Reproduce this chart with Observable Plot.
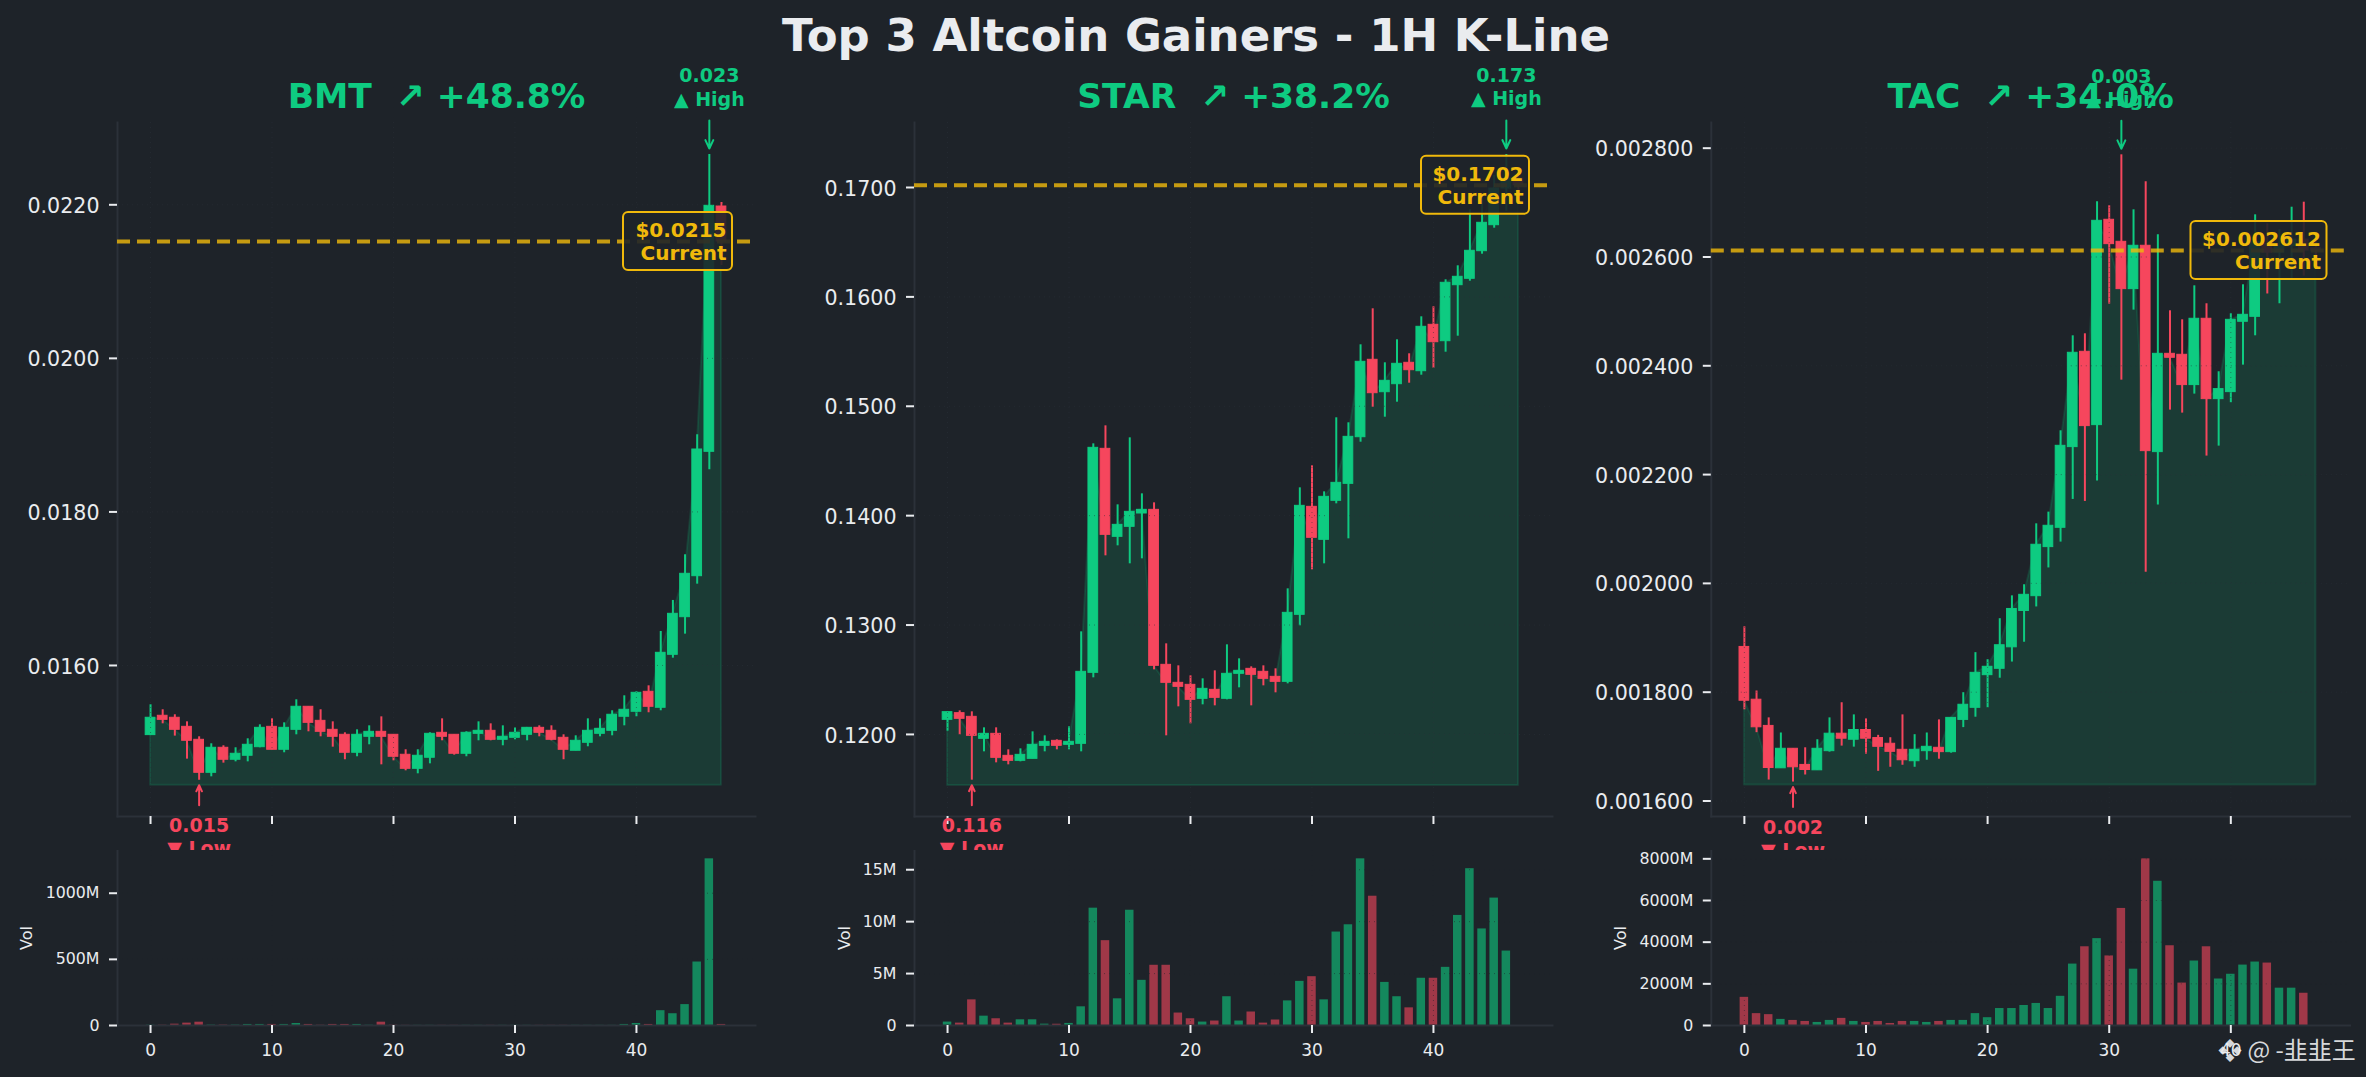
<!DOCTYPE html>
<html><head><meta charset="utf-8">
<script src="https://cdn.jsdelivr.net/npm/d3@7"></script>
<script src="https://cdn.jsdelivr.net/npm/@observablehq/plot@0.6"></script>
<style>
html,body{margin:0;padding:0;background:#1e2329;width:2366px;height:1077px;overflow:hidden}
#root{position:relative;width:2366px;height:1077px;background:#1e2329;font-family:"DejaVu Sans",sans-serif}
#root>div.p{position:absolute}
#title{position:absolute;left:0;width:2392px;top:10px;text-align:center;font-weight:700;font-size:45px;line-height:52px;color:#eaecef;white-space:pre}
#wm{position:absolute;left:2218px;top:1033px;font-size:24px;line-height:32px;color:#d6d8da;white-space:pre;font-family:"Noto Sans CJK SC","DejaVu Sans",sans-serif}
</style></head><body><div id="root">
<div id="title">Top 3 Altcoin Gainers - 1H K-Line</div>
<div id="wm">❖ @ -韭韭王</div>
</div>
<script>
const hourTicks=[0,10,20,30,40];

const bmtOpen=[0.015093,0.015345,0.015319,0.015201,0.015032,0.014602,0.014928,0.014772,0.014824,0.014936,0.015201,0.014902,0.015162,0.015462,0.015279,0.015162,0.015097,0.014863,0.015071,0.015136,0.015097,0.014837,0.014654,0.014798,0.015123,0.015097,0.01485,0.01511,0.015149,0.015032,0.015058,0.015097,0.015188,0.015149,0.015058,0.014889,0.014993,0.01511,0.015149,0.015332,0.015397,0.015657,0.015449,0.016139,0.016629,0.017163,0.018783,0.021978];
const bmtClose=[0.015319,0.015292,0.015162,0.015019,0.014602,0.014928,0.014772,0.01485,0.014967,0.015188,0.014902,0.015188,0.015462,0.015253,0.015136,0.015071,0.014863,0.015097,0.015136,0.015071,0.014811,0.014654,0.014824,0.01511,0.015071,0.01485,0.015123,0.015149,0.015032,0.015071,0.015123,0.015188,0.015123,0.015032,0.014902,0.015019,0.015149,0.015175,0.015358,0.015423,0.015644,0.015462,0.016165,0.016673,0.017194,0.018813,0.021987,0.021522];
const bmtHigh=[0.015488,0.015423,0.015358,0.015266,0.015071,0.01498,0.014954,0.014928,0.015045,0.015227,0.015305,0.015253,0.015553,0.015462,0.015423,0.015266,0.015123,0.015162,0.015214,0.015331,0.015097,0.014902,0.014902,0.015123,0.015305,0.015097,0.015136,0.015266,0.01524,0.015214,0.015188,0.015188,0.015214,0.015214,0.015097,0.015084,0.015305,0.015305,0.01541,0.015605,0.015657,0.015735,0.016443,0.016847,0.017442,0.019005,0.022655,0.02203];
const bmtLow=[0.015093,0.01524,0.01508,0.01478,0.014505,0.01455,0.014728,0.014745,0.014745,0.014928,0.014902,0.014863,0.015097,0.015136,0.015071,0.014936,0.014772,0.014811,0.014967,0.014706,0.014758,0.014628,0.014589,0.014719,0.015019,0.014832,0.014811,0.015019,0.015019,0.014954,0.015032,0.015019,0.015071,0.015019,0.014772,0.014889,0.014941,0.015071,0.015084,0.015214,0.015332,0.015384,0.01541,0.016095,0.016408,0.017059,0.018549,0.02121];
const bmtVolume=[2,2,10,18,25,3,3,3,8,8,8,8,15,8,2,8,8,8,2,25,2,1,1,1,1,1,1,1,1,1,1,1,1,1,1,1,1,1,1,8,15,8,112,89,158,480,1260,8];

const starOpen=[0.121334,0.121944,0.121609,0.119597,0.120054,0.118043,0.117586,0.117769,0.118957,0.119414,0.119049,0.11914,0.125631,0.146109,0.138064,0.138978,0.140197,0.140532,0.126362,0.124717,0.124534,0.123254,0.124077,0.123254,0.12554,0.125997,0.125722,0.125265,0.124808,0.130933,0.140806,0.13779,0.141355,0.142909,0.147172,0.154249,0.151286,0.152018,0.153974,0.153206,0.157448,0.155949,0.161068,0.161653,0.164177,0.166553,0.169909,0.170823];
const starClose=[0.122035,0.121426,0.119872,0.120054,0.11786,0.117586,0.118135,0.119049,0.119323,0.118957,0.119323,0.125722,0.1462,0.138247,0.139161,0.140349,0.140532,0.126271,0.124717,0.124351,0.123163,0.124168,0.123345,0.12554,0.125814,0.125448,0.125082,0.124808,0.131116,0.140898,0.137973,0.141721,0.143001,0.147206,0.154066,0.151195,0.152328,0.153883,0.153298,0.157265,0.155857,0.161288,0.161836,0.164213,0.166773,0.169909,0.170823,0.1702];
const starHigh=[0.122035,0.122157,0.122066,0.120603,0.120603,0.118592,0.118683,0.120237,0.119872,0.119506,0.120694,0.129379,0.146566,0.148211,0.140989,0.147114,0.141995,0.141172,0.128282,0.126271,0.125357,0.125082,0.125814,0.128191,0.126911,0.126179,0.126271,0.125997,0.13331,0.142543,0.144555,0.142178,0.148946,0.148489,0.15562,0.158911,0.153974,0.156077,0.154797,0.158179,0.159094,0.161562,0.162842,0.167961,0.169269,0.171097,0.173017,0.171371];
const starLow=[0.120298,0.119963,0.115819,0.118409,0.117403,0.11722,0.117495,0.117769,0.118409,0.118592,0.118592,0.118409,0.125174,0.136327,0.137241,0.135596,0.136053,0.125905,0.119872,0.122523,0.120969,0.122706,0.122614,0.123163,0.12426,0.122614,0.124442,0.123803,0.124625,0.129928,0.135047,0.135596,0.141081,0.137881,0.146715,0.149915,0.149001,0.150372,0.152109,0.15284,0.15348,0.154943,0.156406,0.161434,0.163902,0.166279,0.167833,0.169177];
const starVolume=[0.33,0.23,2.47,0.9,0.65,0.23,0.55,0.55,0.13,0.12,0.2,1.8,11.3,8.17,2.57,11.1,4.35,5.8,5.8,1.2,0.65,0.33,0.43,2.77,0.43,1.3,0.23,0.53,2.37,4.25,4.7,2.47,9,9.7,16.05,12.45,4.15,2.77,1.7,4.55,4.55,5.6,10.6,15.1,9.3,12.27,7.17,0];

const tacOpen=[0.0018832,0.0017862,0.001738,0.0016601,0.001696,0.0016663,0.0016564,0.0016916,0.0017237,0.0017126,0.0017305,0.0017157,0.0017052,0.0016941,0.0016731,0.0016916,0.0016978,0.0016898,0.0017491,0.0017713,0.0018313,0.001843,0.0018825,0.0019493,0.0019765,0.0020667,0.0021022,0.0022505,0.0024257,0.0022909,0.0026684,0.0026279,0.0025409,0.0026206,0.0022413,0.002422,0.0024202,0.0023645,0.0024864,0.0023387,0.0023516,0.0024809,0.00249,0.002624,0.002608,0.00262,0.002632,0.002616];
const tacClose=[0.0017843,0.0017355,0.0016607,0.001696,0.001662,0.001657,0.001696,0.0017237,0.0017145,0.0017305,0.0017145,0.0016996,0.0016904,0.0016749,0.0016941,0.0016996,0.0016898,0.0017528,0.0017769,0.0018356,0.0018467,0.0018863,0.001953,0.001979,0.002071,0.0021059,0.0022529,0.0024239,0.0022891,0.0026665,0.0026236,0.0025409,0.0026206,0.0022431,0.002422,0.0024147,0.0023645,0.0024864,0.0023387,0.0023571,0.0024845,0.0024937,0.002627,0.002608,0.00262,0.002632,0.002612,0.002612];
const tacHigh=[0.0019202,0.0018022,0.0017528,0.001725,0.001696,0.0016978,0.0017126,0.0017528,0.0017806,0.0017583,0.0017509,0.0017207,0.0017163,0.0017583,0.0017219,0.001725,0.0017491,0.0017528,0.0017991,0.0018727,0.0018597,0.0019351,0.0019771,0.0019975,0.0021095,0.002131,0.0022805,0.0024551,0.0024588,0.0027014,0.0026941,0.0027878,0.0026867,0.0027382,0.0026408,0.0025011,0.0024845,0.002547,0.002514,0.002389,0.0024956,0.0025489,0.0026775,0.002661,0.00265,0.0026915,0.0027007,0.00263];
const tacLow=[0.0017676,0.0017256,0.0016385,0.0016601,0.0016348,0.0016478,0.0016564,0.0016898,0.0017009,0.001699,0.0016861,0.0016545,0.001662,0.0016657,0.001662,0.0016749,0.0016768,0.0016879,0.0017349,0.001754,0.0017713,0.0018257,0.0018554,0.0018918,0.0019567,0.0020284,0.0020759,0.0021543,0.0021506,0.002188,0.0025133,0.0023736,0.0025023,0.0020203,0.0021439,0.0023185,0.002313,0.0023479,0.002234,0.0022523,0.002332,0.0024012,0.0024551,0.002532,0.002514,0.00256,0.002565,0.0026];
const tacVolume=[1352,570,521,293,244,195,147,244,342,195,147,195,98,195,195,147,195,244,244,570,375,815,815,961,1059,815,1401,2948,3779,4170,3340,5620,2704,8000,6923,3828,2036,3095,3779,2232,2460,2900,3046,2997,1792,1792,1548,0];

const bmtTicks=[0.016,0.018,0.02,0.022];
const starTicks=[0.12,0.13,0.14,0.15,0.16,0.17];
const tacTicks=[0.0016,0.0018,0.002,0.0022,0.0024,0.0026,0.0028];
const bmtVolTicks=[0,500,1000];
const starVolTicks=[0,5,10,15];
const tacVolTicks=[0,2000,4000,6000,8000];

const GREEN="#0ecb81",RED="#f6465d",GOLD="#f0b90b",BG="#1e2329",SPINE="#2b3139",INK="#eaecef";
const panels=[
 {name:"BMT  ↗ +48.8%",o:bmtOpen,c:bmtClose,h:bmtHigh,l:bmtLow,v:bmtVolume,ticks:bmtTicks,vt:bmtVolTicks,dec:4,current:0.021522,
  dom:[0.014033,0.023072],base:0.01444,left:0,width:800,ml:117,mr:45,volOff:-91,boxW:109},
 {name:"STAR  ↗ +38.2%",o:starOpen,c:starClose,h:starHigh,l:starLow,v:starVolume,ticks:starTicks,vt:starVolTicks,dec:4,current:0.1702,
  dom:[0.112497,0.175942],base:0.115331,left:800,width:790,ml:114,mr:38,volOff:-70,boxW:108},
 {name:"TAC  ↗ +34.0%",o:tacOpen,c:tacClose,h:tacHigh,l:tacLow,v:tacVolume,ticks:tacTicks,vt:tacVolTicks,dec:6,current:0.002612,
  dom:[0.0015715,0.0028472],base:0.0016292,left:1590,width:776,ml:120.8,mr:16.5,volOff:-90,boxW:136}
];
const xDomain=[-2.72,49.8];
const root=document.getElementById("root");
const font="DejaVu Sans";

function place(svg,left,top){const d=document.createElement("div");d.className="p";d.style.left=left+"px";d.style.top=top+"px";d.appendChild(svg);root.appendChild(d);}

for(const p of panels){
  const rows=p.o.map((o,i)=>({i,open:o,close:p.c[i],high:p.h[i],low:p.l[i],vol:p.v[i],col:p.c[i]>=o?GREEN:RED}));
  const frameTop=122,frameBottom=816,H=850;
  const perPx=(p.dom[1]-p.dom[0])/(frameBottom-frameTop);
  const hi=d3.greatest(rows,d=>d.high),lo=d3.least(rows,d=>d.low);
  const main=Plot.plot({
    width:p.width,height:H,marginTop:frameTop,marginBottom:H-frameBottom,marginLeft:p.ml,marginRight:p.mr,
    style:{background:"transparent",fontFamily:font,color:INK},
    x:{domain:xDomain,axis:null},
    y:{domain:p.dom,axis:null},
    color:{type:"identity"},
    marks:[
      Plot.areaY(rows,{x:"i",y1:()=>p.base,y2:"close",fill:GREEN,fillOpacity:0.15,stroke:GREEN,strokeOpacity:0.15,strokeWidth:2}),
      Plot.ruleX(rows,{x:"i",y1:"low",y2:"high",stroke:"col",strokeWidth:2}),
      Plot.rect(rows,{x1:d=>d.i-0.4,x2:d=>d.i+0.4,y1:"open",y2:"close",fill:"col",stroke:"col",strokeWidth:1}),
      Plot.ruleY(p.ticks,{stroke:SPINE,strokeOpacity:0.5,strokeDasharray:"1 4"}),
      Plot.ruleX(hourTicks,{stroke:SPINE,strokeOpacity:0.5,strokeDasharray:"1 4"}),
      Plot.frame({anchor:"left",stroke:SPINE,strokeWidth:2}),
      Plot.frame({anchor:"bottom",stroke:SPINE,strokeWidth:2}),
      Plot.axisY({ticks:p.ticks,tickFormat:()=>"",tickSize:8,stroke:INK,strokeWidth:2,strokeOpacity:1,label:null}),
      Plot.axisY({ticks:p.ticks,tickFormat:d=>d.toFixed(p.dec),tickSize:0,tickPadding:18,dy:1.5,fontSize:20.6,fill:INK,label:null}),
      Plot.axisX({ticks:hourTicks,tickFormat:()=>"",tickSize:8,stroke:INK,strokeWidth:2,strokeOpacity:1,label:null}),
      Plot.ruleY([p.current],{stroke:GOLD,strokeOpacity:0.8,strokeWidth:4,strokeDasharray:"13 7"}),
      Plot.arrow([hi],{x:"i",y1:d=>d.high+34*perPx,y2:d=>d.high+6*perPx,stroke:GREEN,strokeWidth:2,headLength:10,headAngle:50}),
      Plot.arrow([lo],{x:"i",y1:d=>d.low-25*perPx,y2:d=>d.low-5*perPx,stroke:RED,strokeWidth:2,headLength:10,headAngle:50}),
      Plot.text([hi],{x:"i",y:"high",text:d=>d.high.toFixed(3)+"\n▲ High",dy:-49,lineAnchor:"bottom",fontSize:19,fontWeight:700,fill:GREEN,lineHeight:1.22}),
      Plot.text([lo],{x:"i",y:"low",text:d=>d.low.toFixed(3)+"\n▼ Low",dy:35,lineAnchor:"top",fontSize:19,fontWeight:700,fill:RED,lineHeight:1.22}),
      (index,{y},values,dims)=>{
        const right=dims.width-dims.marginRight-23;
        const g=d3.create("svg:g");
        g.append("rect").attr("x",right-p.boxW).attr("width",p.boxW).attr("y",y(p.current)-29).attr("height",58).attr("rx",5)
          .attr("fill",BG).attr("fill-opacity",0.9).attr("stroke",GOLD).attr("stroke-width",2);
        return g.node();
      },
      Plot.text([p.current],{y:d=>d,frameAnchor:"right",dx:-29,textAnchor:"end",lineAnchor:"middle",text:d=>"$"+d.toFixed(p.dec)+"\nCurrent",fontSize:20,fontWeight:700,fill:GOLD,lineHeight:1.15}),
      Plot.text([p.name],{frameAnchor:"top",dy:-15,lineAnchor:"bottom",fontSize:34.5,fontWeight:700,fill:GREEN})
    ]
  });
  place(main,p.left,0);

  const vmax=d3.max(p.v)*1.05;
  const vol=Plot.plot({
    width:p.width,height:227,marginTop:0,marginBottom:52,marginLeft:p.ml,marginRight:p.mr,
    style:{background:"transparent",fontFamily:font,color:INK},
    x:{domain:xDomain,axis:null},
    y:{domain:[0,vmax],axis:null},
    color:{type:"identity"},
    marks:[
      Plot.rectY(rows,{x1:d=>d.i-0.35,x2:d=>d.i+0.35,y1:0,y2:"vol",fill:"col",fillOpacity:0.6}),
      Plot.ruleY(p.vt,{stroke:BG,strokeOpacity:0.5,strokeDasharray:"1 4"}),
      Plot.ruleX(hourTicks,{stroke:BG,strokeOpacity:0.5,strokeDasharray:"1 4"}),
      Plot.frame({anchor:"left",stroke:SPINE,strokeWidth:2}),
      Plot.frame({anchor:"bottom",stroke:SPINE,strokeWidth:2}),
      Plot.axisY({ticks:p.vt,tickFormat:d=>d+(d?"M":""),tickSize:8,tickPadding:10,fontSize:15.8,stroke:INK,fill:INK,strokeWidth:2,strokeOpacity:1,label:null}),
      Plot.axisX({ticks:hourTicks,tickSize:8,tickPadding:10,fontSize:17,stroke:INK,fill:INK,strokeWidth:2,strokeOpacity:1,label:null}),
      Plot.text(["Vol"],{frameAnchor:"left",textAnchor:"middle",dx:p.volOff,rotate:-90,fontSize:16,fill:INK})
    ]
  });
  place(vol,p.left,850);
}
</script></body></html>
